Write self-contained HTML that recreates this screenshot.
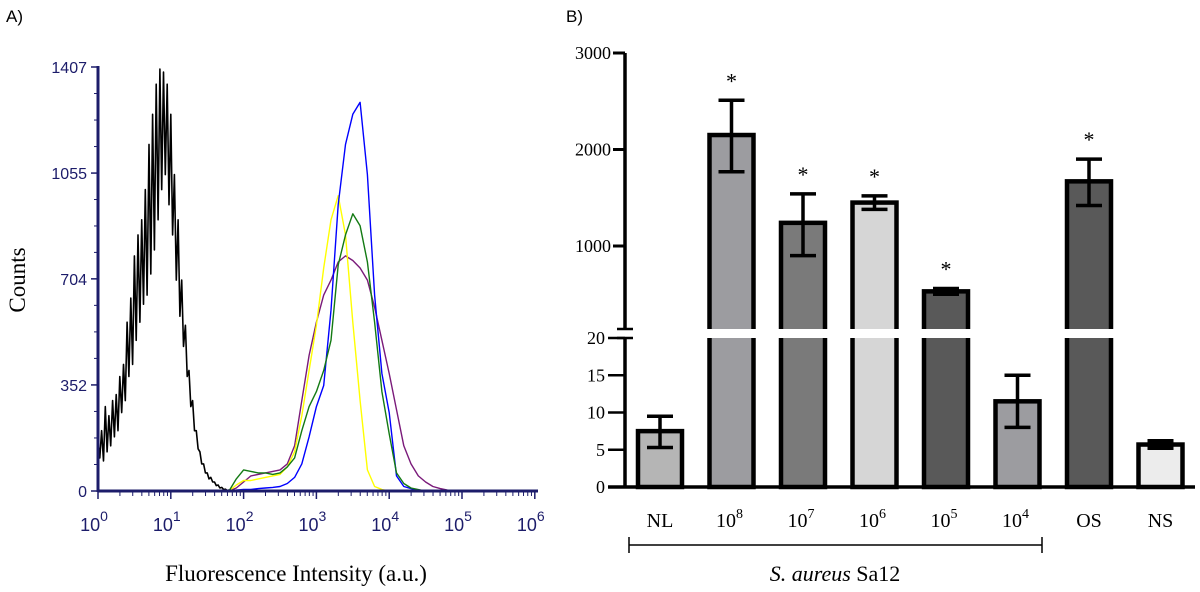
<!DOCTYPE html>
<html><head><meta charset="utf-8">
<style>
body{margin:0;background:#fff;}
svg{display:block;}
.serif{font-family:"Liberation Serif",serif;}
.sans{font-family:"Liberation Sans",sans-serif;}
</style></head>
<body>
<svg id="chart" width="1200" height="592" viewBox="0 0 1200 592">
<text x="6" y="22" class="sans" font-size="17">A)</text>
<text x="566" y="22" class="sans" font-size="17">B)</text>
<g id="pa"></g>
<g id="pb"></g>
</svg>
<script>
// ---------- Panel A data ----------
const blackLogs=[0,0.025,0.05,0.075,0.1,0.125,0.15,0.175,0.2,0.225,0.25,0.275,0.3,0.325,0.35,0.375,0.4,0.425,0.45,0.475,0.5,0.525,0.55,0.575,0.6,0.625,0.65,0.675,0.7,0.725,0.75,0.775,0.8,0.825,0.85,0.875,0.9,0.925,0.95,0.975,1.0,1.025,1.05,1.075,1.1,1.125,1.15,1.175,1.2,1.225,1.25,1.275,1.3,1.325,1.35,1.375,1.4,1.425,1.45,1.475,1.5,1.525,1.55,1.575,1.6,1.625,1.65,1.675,1.7,1.725,1.75,1.775,1.8,1.825,1.85,1.875,1.9];
const blackCounts=[170,110,200,100,280,130,250,150,300,180,320,200,380,260,420,300,560,380,640,420,780,500,850,560,900,620,1000,650,1150,720,1250,800,1350,900,1400,1000,1390,1050,1350,950,1250,850,1050,700,900,580,700,480,550,380,400,280,300,200,200,140,130,90,90,60,60,40,45,30,30,18,20,10,12,5,6,2,3,0,1,0,0];
const colorLogs=[1.8,1.9,2.0,2.1,2.2,2.3,2.4,2.5,2.6,2.7,2.8,2.9,3.0,3.1,3.2,3.3,3.4,3.5,3.6,3.7,3.8,3.9,4.0,4.1,4.2,4.3,4.4,4.5,4.6,4.7,4.8,4.9,5.0];
const blueCounts=[0,3,5,5,8,10,12,15,25,45,90,180,280,350,600,950,1150,1250,1290,1050,650,390,260,50,15,8,3,0,0,0,0,0,0];
const yellowCounts=[0,20,35,35,40,45,50,55,80,130,250,400,550,740,900,980,850,560,300,70,15,5,0,0,0,0,0,0,0,0,0,0,0];
const greenCounts=[0,40,70,65,60,60,55,60,80,110,200,280,330,400,500,750,850,920,880,760,560,330,190,60,25,10,5,0,0,0,0,0,0];
const purpleCounts=[0,10,30,50,55,60,65,70,90,150,300,450,560,650,700,760,780,765,740,700,610,500,390,270,150,90,50,30,15,8,3,0,0];
const aYTicks=[0,352,704,1055,1407];
const aXExps=[0,1,2,3,4,5,6];
// ---------- Panel B data ----------
const bCats=["NL","8","7","6","5","4","OS","NS"];
const bValues=[7.5,2150,1240,1450,530,11.5,1670,5.7];
const bErrLo=[5.3,1770,900,1380,500,8,1420,5.2];
const bErrHi=[9.5,2510,1540,1520,560,15,1900,6.2];
const bStar=[false,true,true,true,true,false,true,false];
const bFills=["#b5b5b5","#9c9ca0","#7a7a7a","#d6d6d6","#595959","#9c9ca0","#595959","#ececec"];
const bUpperTicks=[1000,2000,3000];
const bLowerTicks=[0,5,10,15,20];

const NS="http://www.w3.org/2000/svg";
function mk(tag,attrs,parent,text){const e=document.createElementNS(NS,tag);for(const k in attrs)e.setAttribute(k,attrs[k]);if(text!==undefined)e.textContent=text;parent.appendChild(e);return e;}

// ---- Panel A ----
const pa=document.getElementById('pa');
const ax=l=>98+l*72.8;
const ay=v=>491-v*(424/1407);
const navy="#1c1c6a";
function linePath(logs,vals){let d="";for(let i=0;i<logs.length;i++){d+=(i?"L":"M")+ax(logs[i]).toFixed(1)+","+ay(vals[i]).toFixed(1);}return d;}
const series=[[colorLogs,purpleCounts,"#7a1a7a","series-purple"],[colorLogs,yellowCounts,"#ffff00","series-yellow"],[colorLogs,blueCounts,"#0000ff","series-blue"],[colorLogs,greenCounts,"#137a13","series-green"],[blackLogs,blackCounts,"#000","series-black"]];
series.forEach(s=>{const p=mk('path',{d:linePath(s[0],s[1]),fill:"none",stroke:s[2],"stroke-width":s[3]==="series-black"?1.6:1.4,"stroke-linejoin":"round"},pa);

});
let a1=mk('line',{x1:98,y1:491,x2:538,y2:491,stroke:navy,"stroke-width":3},pa);

let a2=mk('line',{x1:98,y1:66,x2:98,y2:492,stroke:navy,"stroke-width":3},pa);

aYTicks.forEach(v=>{mk('line',{x1:91,y1:ay(v),x2:98,y2:ay(v),stroke:navy,"stroke-width":1.5},pa);
const t=mk('text',{x:87,y:ay(v)+6,"text-anchor":"end","font-size":16,fill:navy,class:"sans"},pa,String(v));
});
for(let i=0;i<aYTicks.length-1;i++){for(let k=1;k<4;k++){const v=aYTicks[i]+(aYTicks[i+1]-aYTicks[i])*k/4;mk('line',{x1:94,y1:ay(v),x2:98,y2:ay(v),stroke:navy,"stroke-width":1},pa);}}
aXExps.forEach(e=>{mk('line',{x1:ax(e),y1:491,x2:ax(e),y2:499,stroke:navy,"stroke-width":1.5},pa);
if(e<6){for(let m=2;m<10;m++){const x=ax(e+Math.log10(m));mk('line',{x1:x,y1:491,x2:x,y2:496,stroke:navy,"stroke-width":1},pa);}}
const t=mk('text',{x:ax(e)-4,y:531,"text-anchor":"middle","font-size":18,fill:navy,class:"sans"},pa,"10");

mk('tspan',{dy:-10,"font-size":14},t,String(e));});
let yt=mk('text',{x:0,y:0,transform:"translate(25,280) rotate(-90)","text-anchor":"middle","font-size":23,class:"serif"},pa,"Counts");

let xt=mk('text',{x:296,y:581,"text-anchor":"middle","font-size":23,class:"serif"},pa,"Fluorescence Intensity (a.u.)");


// ---- Panel B ----
const pb=document.getElementById('pb');
const breakTop=329, breakBot=338;
function by(v){ if(v<=20) return 487-v*(487-338)/20; return 246-(v-1000)*(246-53)/2000; }
const bx=i=>660+i*71.5;
const bw=44;
bCats.forEach((c,i)=>{
 const x0=bx(i)-bw/2, yv=by(bValues[i]);
 const r=mk('rect',{x:x0,y:yv,width:bw,height:487-yv,fill:bFills[i],stroke:"#000","stroke-width":4.5},pb);
 
 
 const lo=by(bErrLo[i]),hi=by(bErrHi[i]);
 const eb=mk('path',{d:`M${bx(i)},${lo}V${hi}M${bx(i)-13},${hi}H${bx(i)+13}M${bx(i)-13},${lo}H${bx(i)+13}`,stroke:"#000","stroke-width":3.5,fill:"none"},pb);
 
 if(bStar[i]){const s=mk('text',{x:bx(i),y:hi-12,"text-anchor":"middle","font-size":22,class:"serif"},pb,"*");
 }
 let lab;
 if(c.length>1){lab=mk('text',{x:bx(i),y:527,"text-anchor":"middle","font-size":20,class:"serif"},pb,c);}
 else{lab=mk('text',{x:bx(i)-2,y:527,"text-anchor":"middle","font-size":20,class:"serif"},pb,"10");mk('tspan',{dy:-9,"font-size":14},lab,c);}
 
});
mk('rect',{x:626,y:breakTop,width:570,height:breakBot-breakTop,fill:"#fff"},pb);
let ba1=mk('path',{d:`M625,53V${breakTop}M625,${breakBot}V487`,stroke:"#000","stroke-width":3.5,fill:"none"},pb);

mk('path',{d:`M617,${breakTop}H633M617,${breakBot}H633`,stroke:"#000","stroke-width":2.5},pb);
let ba2=mk('line',{x1:608,y1:487,x2:1195,y2:487,stroke:"#000","stroke-width":3.5},pb);

bUpperTicks.forEach(v=>{mk('line',{x1:613,y1:by(v),x2:625,y2:by(v),stroke:"#000","stroke-width":3},pb);
const t=mk('text',{x:611,y:by(v)+6,"text-anchor":"end","font-size":18,class:"serif"},pb,String(v));
});
bLowerTicks.forEach(v=>{mk('line',{x1:608,y1:by(v),x2:625,y2:by(v),stroke:"#000","stroke-width":2.5},pb);
const t=mk('text',{x:605,y:by(v)+6,"text-anchor":"end","font-size":18,class:"serif"},pb,String(v));
});
let br=mk('path',{d:"M629,537V553M629,545H1042M1042,537V553",stroke:"#000","stroke-width":1.5,fill:"none"},pb);

let gl=mk('text',{x:835,y:581,"text-anchor":"middle","font-size":22,class:"serif"},pb);

mk('tspan',{"font-style":"italic"},gl,"S. aureus");mk('tspan',{},gl," Sa12");
</script>
</body></html>
